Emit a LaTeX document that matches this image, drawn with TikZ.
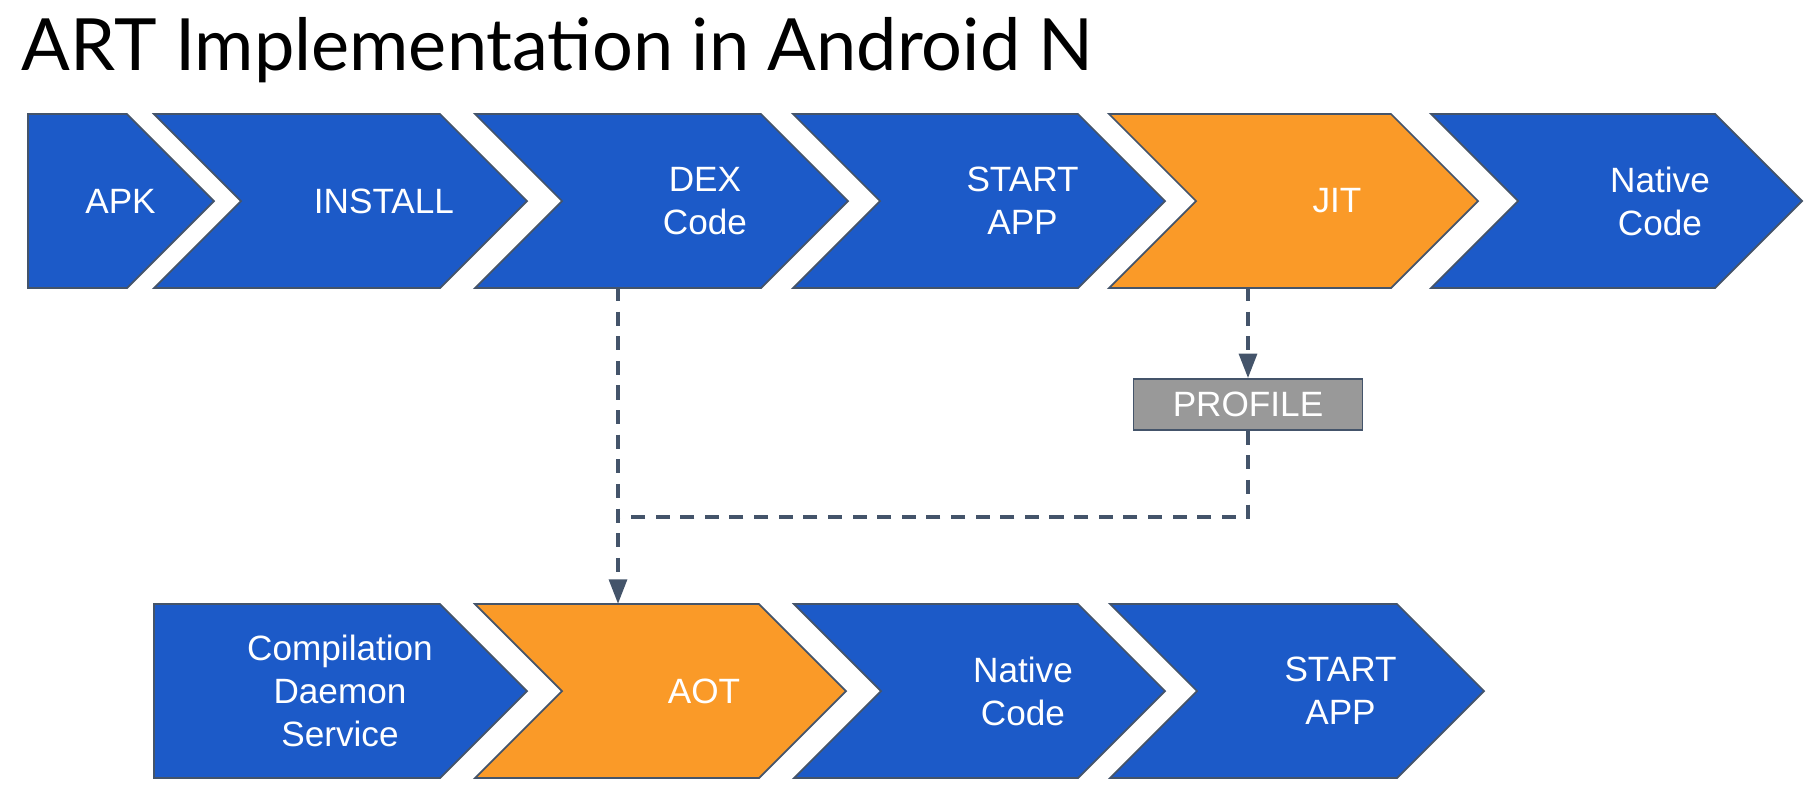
\documentclass[tikz,border=0pt]{standalone}
\usepackage{fontspec}
\setmainfont{Liberation Sans}
\newfontfamily\titlefont{Lato}
\usepackage{tikz}
\usetikzlibrary{arrows.meta}

\definecolor{artblue}{HTML}{1C5AC8}
\definecolor{artorange}{HTML}{FA9A28}
\definecolor{artgray}{HTML}{999999}
\definecolor{artline}{HTML}{44546A}

% chevron: name, left x, top y, body width, fill, text
\newcommand{\chev}[6]{%
  \draw[step box, fill=#5] (#2,#3) -- ++(#4,0) -- ++(87,87) -- ++(-87,87) -- ++(-#4,0) -- ++(87,-87) -- cycle;
  \node[lbl] (#1) at (#2+#4/2+87,#3+87) {#6};
  \coordinate (#1-b) at (#2+#4/2+87+56,#3+174);}
\newcommand{\chevfirst}[6]{%
  \draw[step box, fill=#5] (#2,#3) -- ++(#4,0) -- ++(87,87) -- ++(-87,87) -- ++(-#4,0) -- cycle;
  \node[lbl] (#1) at (#2+#4/2+43,#3+87) {#6};}

\tikzset{
  step box/.style={draw=artline, line width=0.5pt},
  lbl/.style={text=white, align=center, font=\fontsize{10}{12.2}\selectfont},
  link/.style={draw=artline, line width=1.2pt, dash pattern=on 4pt off 3pt},
  tip/.style={-{Triangle[length=7pt,width=5pt]}}
}

\begin{document}
\begin{tikzpicture}[x=0.01cm, y=-0.01cm]
\useasboundingbox (0,0) rectangle (1818,796);

\node[anchor=base west, inner sep=0, font=\titlefont\fontsize{20.5}{24}\selectfont] (title) at (21,70) {ART Implementation in Android N};

% top row
\chevfirst{apk}{28}{114}{99}{artblue}{APK}
\chev{install}{154}{114}{286}{artblue}{INSTALL}
\chev{dex}{475}{114}{286}{artblue}{DEX\\Code}
\chev{start}{793}{114}{285}{artblue}{START\\APP}
\chev{jit}{1109}{114}{282}{artorange}{JIT}
\chev{native}{1431}{114}{284}{artblue}{Native\\Code}

% bottom row
\chevfirst{daemon}{154}{604}{286}{artblue}{Compilation\\Daemon\\Service}
\node[lbl] at (daemon) {};
\chev{aot}{475}{604}{284}{artorange}{AOT}
\chev{native2}{794}{604}{284}{artblue}{Native\\Code}
\chev{start2}{1110}{604}{287}{artblue}{START\\APP}

\node[draw=artline, fill=artgray, text=white, minimum width=2.29cm, minimum height=0.51cm, inner sep=0, font=\fontsize{10}{12}\selectfont] (profile) at (1248,404.5) {PROFILE};

\coordinate (dexdown) at (618,287);
\coordinate (aottop) at (618,604);
\coordinate (jitdown) at (1248,287);
\coordinate (join) at (618,517);

\draw[link, tip] (dexdown) -- (aottop);
\draw[link, tip] (jitdown) -- (profile.north);
\draw[link] (profile.south) |- (join);
\end{tikzpicture}
\end{document}
